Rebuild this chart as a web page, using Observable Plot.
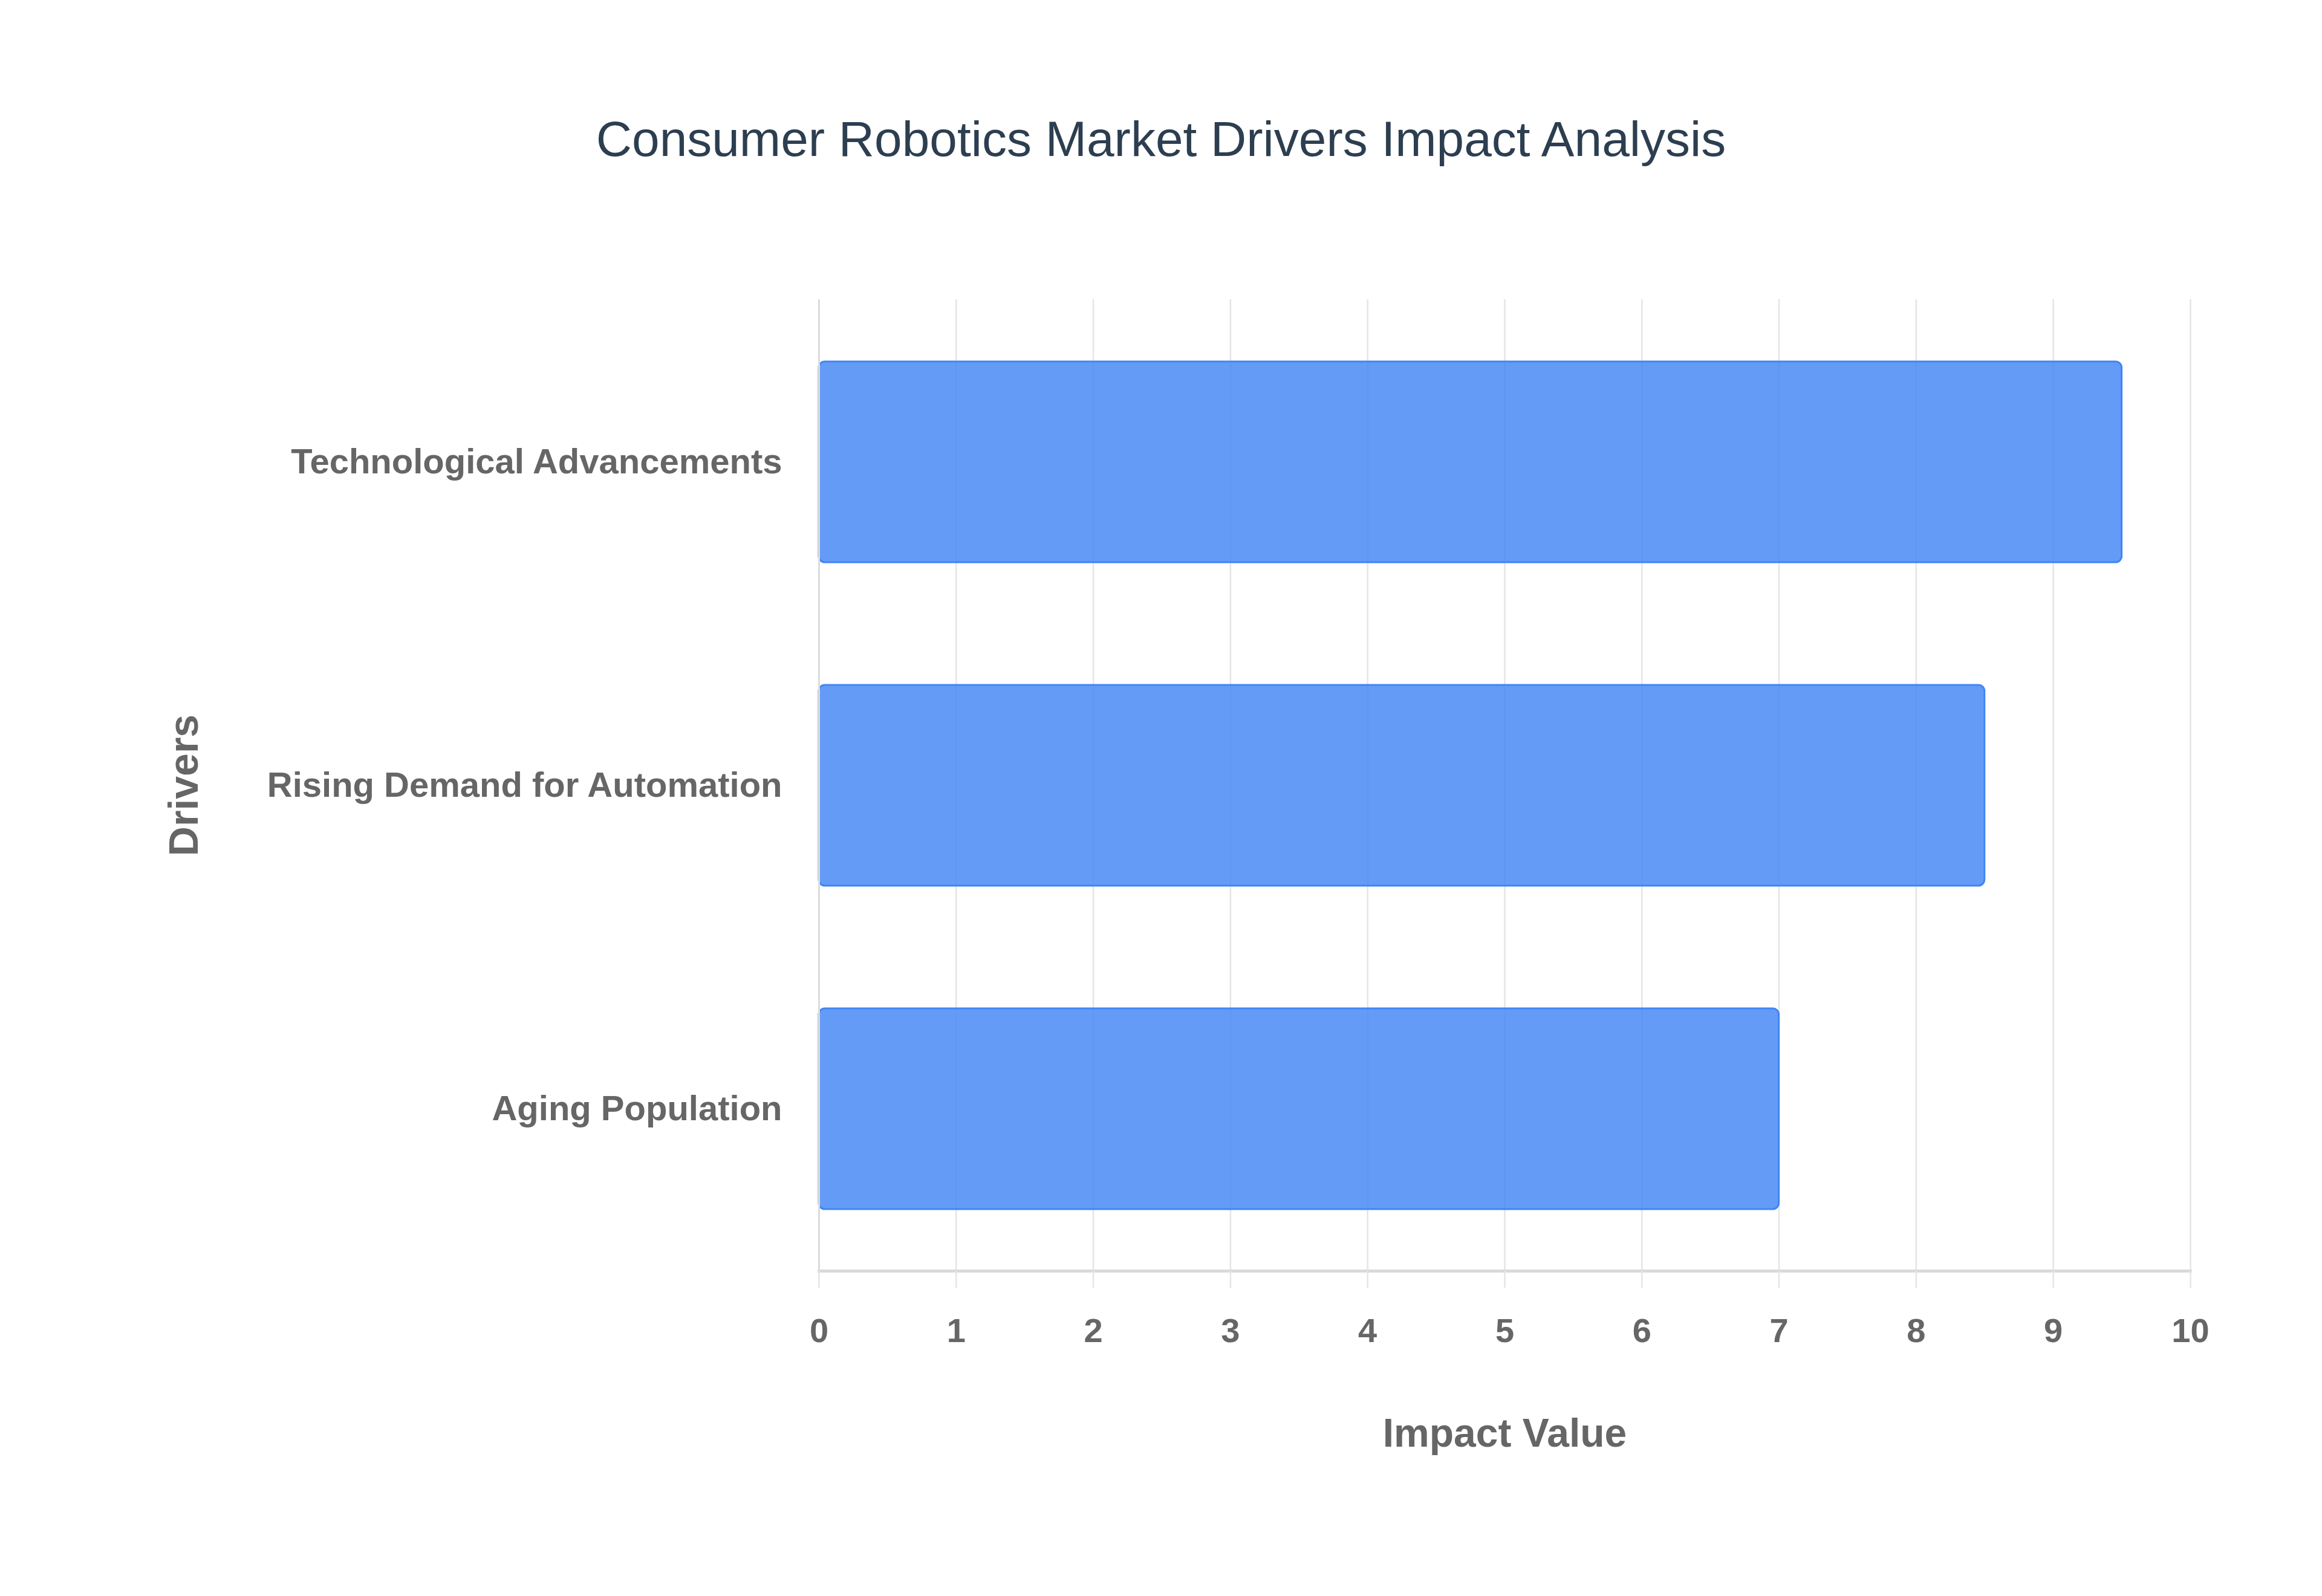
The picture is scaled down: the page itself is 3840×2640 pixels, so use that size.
<!DOCTYPE html>
<html><head><meta charset="utf-8">
<script src="https://cdn.jsdelivr.net/npm/d3@7"></script>
<script src="https://cdn.jsdelivr.net/npm/@observablehq/plot@0.6"></script>
<style>
html,body{margin:0;padding:0;background:#fff;}
#title{height:400px;width:3840px;position:relative;}
#title h1{position:absolute;left:0;width:3840px;top:183px;margin:0;line-height:100px;text-align:center;font:400 82px "Liberation Sans",Arial,sans-serif;color:#2c3e50;}
</style></head><body>
<div id="title"><h1>Consumer Robotics Market Drivers Impact Analysis</h1></div>
<div id="chart"></div>
<script>
const drivers = ["Technological Advancements", "Rising Demand for Automation", "Aging Population"];
const impactValues = [9.5, 8.5, 7];
const xTicks = [0, 1, 2, 3, 4, 5, 6, 7, 8, 9, 10];
const xLabel = "Impact Value";
const yLabel = "Drivers";
const data = drivers.map((d, i) => ({driver: d, value: impactValues[i]}));

const chart = Plot.plot({
  width: 3840, height: 2240,
  marginTop: 95, marginBottom: 538, marginLeft: 1354, marginRight: 218,
  style: {fontFamily: "'Liberation Sans', Arial, sans-serif", background: "white", overflow: "visible"},
  x: {domain: [0, 10]},
  y: {domain: drivers, paddingInner: 0.38, paddingOuter: 0.19},
  marks: [
    Plot.gridX(xTicks, {stroke: "#e5e5e5", strokeOpacity: 1, strokeWidth: 2.5}),
    Plot.barX(data, {x: "value", y: "driver", fill: "#4285f4", fillOpacity: 0.82, stroke: "#4285f4", strokeWidth: 3, rx: 10}),
    Plot.ruleX([0], {stroke: "#dcdcdc", strokeWidth: 3}),
    Plot.frame({anchor: "bottom", stroke: "#d9d9d9", strokeWidth: 5}),
    Plot.axisX(xTicks, {tickSize: 28, tickPadding: 50, stroke: "#e5e5e5", strokeWidth: 2.5, fill: "#666", fontSize: 56, fontWeight: "bold", tickFormat: d => String(d), label: null}),
    Plot.axisX([], {label: xLabel, labelAnchor: "center", labelOffset: 290, labelArrow: "none", fontSize: 66, fontWeight: "bold", fill: "#666", tickSize: 0}),
    Plot.axisY({tickSize: 0, tickPadding: 61, fontSize: 58, fontWeight: "bold", fill: "#666", label: null}),
    Plot.axisY([], {label: yLabel, labelAnchor: "center", labelOffset: 1076, fontSize: 68, fontWeight: "bold", fill: "#666", tickSize: 0})
  ]
});
document.getElementById("chart").appendChild(chart);
</script>
</body></html>
